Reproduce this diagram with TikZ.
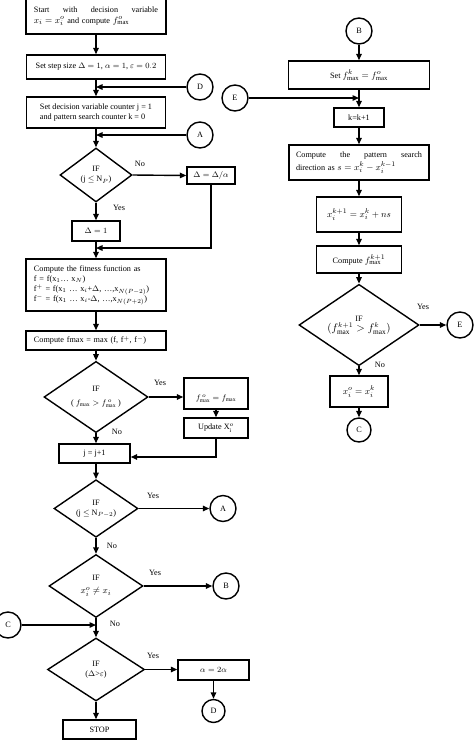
\documentclass[tikz,border=0pt]{standalone}
\usepackage{fontspec}
\setmainfont{Liberation Serif}
\usetikzlibrary{arrows.meta,shapes.geometric}
\newcommand\myfs{\fontsize{8.2}{10}\selectfont}
\newcommand\mybig{\fontsize{9.5}{11}\selectfont}
\newcommand\mybigger{\fontsize{10.5}{12}\selectfont}
\tikzset{
  box/.style={draw, line width=1.4pt, inner sep=0pt, align=center, font=\myfs},
  dia/.style={draw, line width=1.4pt, shape=diamond, inner sep=0pt, align=center, font=\myfs},
  conn/.style={draw, line width=1.4pt, circle, inner sep=0pt, minimum size=26pt, font=\myfs},
  lbl/.style={font=\myfs, inner sep=0pt},
  flow/.style={line width=1.4pt, -{Triangle[length=6.5pt,width=5.5pt]}}
}
\begin{document}
\begin{tikzpicture}[x=1pt,y=-1pt]
\useasboundingbox (0,0) rectangle (474,740);
% ---------- left column ----------
\node[box, minimum width=140pt, minimum height=36pt, text width=124pt, align=left] (start) at (96,16)
  {Start\hfill with\hfill decision\hfill variable\\[1pt] {\mybig$x_i = x_i^o$} and compute {\mybig$f^o_{\max}$}};
\node[box, minimum width=139pt, minimum height=24pt] (step) at (96,67)
  {Set step size $\Delta = 1$, $\alpha = 1$, $\varepsilon = 0.2$};
\node[box, minimum width=139pt, minimum height=31pt, align=left] (counter) at (96,112.5)
  {Set decision variable counter j = 1\\and pattern search counter k = 0};
\node[conn] (D1) at (200,87) {D};
\node[conn] (A1) at (200,135) {A};
\node[dia, minimum width=72pt, minimum height=54pt] (dia1) at (96,175) {IF\\(j $\leq$ N$_P$)};
\node[box, minimum width=48pt, minimum height=17pt] (divA) at (211,175.5) {$\Delta = \Delta/\alpha$};
\node[box, minimum width=48pt, minimum height=20pt] (delta1) at (96,231) {$\Delta = 1$};
\coordinate (m1) at (96,248);
\node[box, minimum width=140pt, minimum height=52pt, text width=124pt, align=left] (fit) at (96,285)
  {Compute the fitness function as\\
   f = f(x$_1$\dots\ x$_N$)\\
   f$^+$ = f(x$_1$ \dots\ x$_i$+$\Delta$, \dots,x$_{N(P-2)}$)\\
   f$^-$ = f(x$_1$ \dots\ x$_i$-$\Delta$, \dots,x$_{N(P+2)}$)};
\node[box, minimum width=140pt, minimum height=19pt, text width=124pt, align=left] (fmax) at (96,340.5)
  {Compute fmax = max (f, f$^+$, f$^-$)};
\node[dia, minimum width=104pt, minimum height=54pt] (dia2) at (96,397) {IF\\[4pt]( $f_{\max} > f^{\,o}_{\max}$ )};
\node[box, minimum width=64pt, minimum height=31pt] (fo) at (216,393.5)
  {\mbox{}\\[6pt]$f^{\,o}_{\max} = f_{\max}$};
\node[box, minimum width=64pt, minimum height=20pt] (upd) at (216,428) {Update X$_\mathrm{i}^o$};
\node[box, minimum width=71pt, minimum height=19pt] (jinc) at (94.5,453.5) {j = j+1};
\coordinate (m2) at (216,457);
\node[dia, minimum width=84pt, minimum height=51pt] (dia3) at (96,508.5) {IF\\(j $\leq$ N$_{P-2}$)};
\node[conn] (A2) at (223,508.5) {A};
\node[dia, minimum width=94pt, minimum height=63pt] (dia4) at (96,586) {IF\\[3pt]{\mybig$x_i^o \neq x_i$}};
\node[conn] (B2) at (226,586) {B};
\node[conn] (C1) at (8,625) {C};
\coordinate (m3) at (96,625);
\node[dia, minimum width=97pt, minimum height=63pt] (dia5) at (96,669.5) {IF\\($\Delta$>$\varepsilon$)};
\node[box, minimum width=71pt, minimum height=20pt] (alph) at (213.5,670) {$\alpha = 2\alpha$};
\node[conn, minimum size=23pt] (D2) at (213.5,711) {D};
\node[box, minimum width=73pt, minimum height=19pt] (stop) at (99.5,729.5) {STOP};
% ---------- right column ----------
\node[conn] (B1) at (359,31) {B};
\node[box, minimum width=141pt, minimum height=28pt] (setk) at (359,75)
  {Set {\mybig$f^k_{\max} = f^o_{\max}$}};
\node[conn] (E1) at (235,98) {E};
\coordinate (m4) at (359,98);
\node[box, minimum width=50pt, minimum height=19pt] (kinc) at (359,117.5) {k=k+1};
\node[box, minimum width=140pt, minimum height=35pt, text width=126pt, align=left] (pat) at (359,162.5)
  {Compute\hfill the\hfill pattern\hfill search\\[1pt] direction as {\mybig$s = x_i^k - x_i^{k-1}$}};
\node[box, minimum width=85pt, minimum height=35pt] (xk1) at (359,214.5)
  {\mybig$x_i^{k+1} = x_i^k + ns$};
\node[box, minimum width=85pt, minimum height=27pt] (cf) at (359,259.5)
  {Compute {\mybig$f^{k+1}_{\max}$}};
\node[dia, minimum width=120pt, minimum height=62pt] (dia6) at (359,325)
  {IF\\{\mybigger$(f^{k+1}_{\max} > f^k_{\max})$}};
\node[conn] (E2) at (460,325) {E};
\node[box, minimum width=58pt, minimum height=31pt] (xo) at (359,391.5) {\mybig$x_i^o = x_i^k$};
\node[conn, minimum size=24pt] (C2) at (359,430) {C};
% ---------- labels ----------
\node[lbl] (l1) at (140,164) {No};
\node[lbl] (l2) at (119,208) {Yes};
\node[lbl] (l3) at (160,383) {Yes};
\node[lbl] (l4) at (117,432) {No};
\node[lbl] (l5) at (153,496) {Yes};
\node[lbl] (l6) at (112,546) {No};
\node[lbl] (l7) at (155,573) {Yes};
\node[lbl] (l8) at (115,624) {No};
\node[lbl] (l9) at (153,656) {Yes};
\node[lbl] (l10) at (423,307) {Yes};
\node[lbl] (l11) at (380,365) {No};
% ---------- connectors left ----------
\draw[flow] (start.south) -- (step.north);
\draw[flow] (step.south) -- (counter.north);
\draw[flow] (D1.west) -- (D1 -| step.south);
\draw[flow] (counter.south) -- (dia1.north);
\draw[flow] (A1.west) -- (A1 -| counter.south);
\draw[flow] (dia1.east) -- (divA.west);
\draw[flow] (dia1.south) -- (delta1.north);
\draw[flow] (divA.south) |- (m1);
\draw[flow] (delta1.south) -- (fit.north);
\draw[flow] (fit.south) -- (fmax.north);
\draw[flow] (fmax.south) -- (dia2.north);
\draw[flow] (dia2.east) -- (dia2.east -| fo.west);
\draw[flow] (fo.south) -- (upd.north);
\draw[flow] (upd.south) -- (m2) -- (m2 -| jinc.east);
\draw[flow] (dia2.south) -- (dia2.south |- jinc.north);
\draw[flow] (jinc.south -| dia3.north) -- (dia3.north);
\draw[flow] (dia3.east) -- (A2.west);
\draw[flow] (dia3.south) -- (dia4.north);
\draw[flow] (dia4.east) -- (B2.west);
\draw[flow] (C1.east) -- (m3);
\draw[flow] (dia4.south) -- (dia5.north);
\draw[flow] (dia5.east) -- (dia5.east -| alph.west);
\draw[flow] (alph.south) -- (D2.north);
\draw[flow] (dia5.south) -- (dia5.south |- stop.north);
% ---------- connectors right ----------
\draw[flow] (B1.south) -- (setk.north);
\draw[flow] (E1.east) -- (m4);
\draw[flow] (setk.south) -- (kinc.north);
\draw[flow] (kinc.south) -- (pat.north);
\draw[flow] (pat.south) -- (xk1.north);
\draw[flow] (xk1.south) -- (cf.north);
\draw[flow] (cf.south) -- (dia6.north);
\draw[flow] (dia6.east) -- (E2.west);
\draw[flow] (dia6.south) -- (xo.north);
\draw[flow] (xo.south) -- (C2.north);
\end{tikzpicture}
\end{document}
